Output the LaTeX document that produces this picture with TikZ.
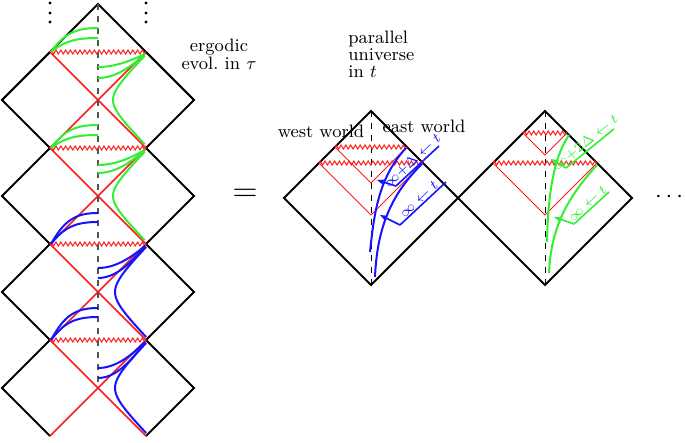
\documentclass[tikz,border=0pt]{standalone}
\usepackage{tikz}
\usetikzlibrary{arrows.meta,decorations.pathmorphing}
\definecolor{hotred}{HTML}{FF1A1A}
\definecolor{deepblue}{HTML}{1414FF}
\definecolor{brightgreen}{HTML}{33EE33}
\definecolor{axisgray}{HTML}{555555}
\tikzset{
  wall/.style={black, line width=0.9pt},
  cone/.style={hotred, line width=#1},
  cone/.default=0.8pt,
  crunch/.style={hotred, line width=0.5pt, decorate,
    decoration={zigzag, segment length=2.4pt, amplitude=1pt}},
  axis/.style={axisgray, dashed, line width=0.7pt},
  thinaxis/.style={black, dashed, line width=0.5pt},
  traj/.style={#1, line width=1pt},
  pointer/.style={#1, line width=0.8pt, -{Stealth[length=4pt,width=3pt]}},
  caption/.style={font=\small, inner sep=1pt},
  tag/.style={font=\scriptsize, sloped, above, inner sep=0.4pt, text=#1}
}

\begin{document}
\begin{tikzpicture}[x=0.5pt, y=-0.5pt]

\def\cx{98}     % axis of the tower
\def\mx{371}    % centre of west/east universe
\def\nx{545}    % centre of the next copy
\def\my{198}    % common centre height
\def\dh{87}     % half-diagonal of the right diamonds

\useasboundingbox (0,0) rectangle (685,443);

%--- Tower of patches (evolution in tau) ---

% Outer boundary
\draw[wall] (2,100) -- (\cx,4) -- (194,100);
\foreach \k in {0,...,3} {
  \pgfmathsetmacro{\yX}{100+96*\k}
  \draw[wall] (50,\yX-48) -- (2,\yX) -- (50,\yX+48);
  \draw[wall] (146,\yX-48) -- (194,\yX) -- (146,\yX+48);
}

% Horizons and singularities
\foreach \k in {0,...,3} {
  \pgfmathsetmacro{\yX}{100+96*\k}
  \draw[cone] (50,\yX-48) -- (146,\yX+48);
  \draw[cone] (146,\yX-48) -- (50,\yX+48);
  \draw[crunch] (50,\yX-48) -- (146,\yX-48);
}

% Axis
\draw[axis] (\cx,4) -- (\cx,388);

% Trajectories: colour / left ends / right ends / radius / range
\foreach \k/\col/\a/\b/\c/\d/\r/\smax in
    {0/brightgreen/24/14/15/26/15/1.8, 1/brightgreen/23/13/17/25/15/1.8,
     2/deepblue/31/22/24/34/17/1.7,    3/deepblue/32/23/28/38/17/1.7} {
  \pgfmathsetmacro{\yZ}{52+96*\k}
  \pgfmathsetmacro{\yX}{100+96*\k}
  \draw[traj=\col] (51,\yZ) .. controls (64,\yZ-0.75*\a) and (75,\yZ-\a) .. (\cx,\yZ-\a);
  \draw[traj=\col] (51,\yZ) .. controls (64,\yZ-0.75*\b) and (75,\yZ-\b) .. (\cx,\yZ-\b);
  \draw[traj=\col] (145,\yZ+2) .. controls (130,\yZ+0.6*\c) and (115,\yZ+\c) .. (\cx,\yZ+\c);
  \draw[traj=\col] (145,\yZ+2) .. controls (130,\yZ+0.6*\d) and (115,\yZ+\d) .. (\cx,\yZ+\d);
  \draw[traj=\col] plot[smooth, domain=-\smax:\smax, variable=\s]
    ({\cx+\r*cosh(\s)}, {\yX+\r*sinh(\s)});
}

% Dots
\foreach \y in {3,13,22} {
  \fill (50,\y) circle (0.8pt);
  \fill (146,\y) circle (0.8pt);
}

\node[caption, align=center] (ergodic) at (219,54) {ergodic\\[-2pt] evol.\ in $\tau$};
\node[font=\LARGE] (equals) at (245,195) {$=$};

%--- Parallel universes (evolution in t) ---

\node[caption, align=left, anchor=west] (parallel) at (346,54)
  {parallel\\[-2.5pt] universe\\[-2.5pt] in $t$};

% West/east universe
\draw[wall] (\mx,\my-\dh) -- (\mx+\dh,\my) -- (\mx,\my+\dh) -- (\mx-\dh,\my) -- cycle;
\draw[thinaxis] (\mx,\my-\dh) -- (\mx,\my+\dh);
\draw[cone=0.5pt] (335,147) -- (\mx,183) -- (407,147);
\draw[crunch] (335,147) -- (407,147);
\draw[cone=0.5pt] (319,163) -- (\mx,215) -- (423,163);
\draw[crunch] (319,163) -- (423,163);

\node[caption] (west) at (321,131) {west world};
\node[caption] (east) at (424,126) {east world};

\draw[traj=deepblue] (370,252) .. controls (374,215) and (378,178) .. (406,148);
\draw[traj=deepblue] (375,277) .. controls (377,230) and (390,195) .. (422,164);

\coordinate (tipA)  at (377,180);
\coordinate (kneeA) at (396,186);
\coordinate (endA)  at (439,146);
\coordinate (tipB)  at (380,215);
\coordinate (kneeB) at (400,225);
\coordinate (endB)  at (446,182);
\draw[pointer=deepblue] (kneeA) -- (tipA);
\draw[traj=deepblue, line width=0.8pt] (kneeA) -- node[tag=deepblue] (labA) {$\infty{+}\Delta\leftarrow t$} (endA);
\draw[pointer=deepblue] (kneeB) -- (tipB);
\draw[traj=deepblue, line width=0.8pt] (kneeB) -- node[tag=deepblue] (labB) {$\infty\leftarrow t$} (endB);

% Next copy
\draw[wall] (\nx,\my-\dh) -- (\nx+\dh,\my) -- (\nx,\my+\dh) -- (\nx-\dh,\my) -- cycle;
\draw[thinaxis] (\nx,\my-\dh) -- (\nx,\my+\dh);
\draw[cone=0.5pt] (523,133) -- (\nx,155) -- (567,133);
\draw[crunch] (523,133) -- (567,133);
\draw[cone=0.5pt] (493,163) -- (\nx,215) -- (597,163);
\draw[crunch] (493,163) -- (597,163);

\draw[traj=brightgreen] (547,242) .. controls (548,200) and (552,160) .. (569,135);
\draw[traj=brightgreen] (549,273) .. controls (551,230) and (565,200) .. (597,165);

\coordinate (tipC)  at (551,159);
\coordinate (kneeC) at (566,168);
\coordinate (endC)  at (614,129);
\coordinate (tipD)  at (554,217);
\coordinate (kneeD) at (574,224);
\coordinate (endD)  at (609,192);
\draw[pointer=brightgreen] (kneeC) -- (tipC);
\draw[traj=brightgreen, line width=0.8pt] (kneeC) -- node[tag=brightgreen] (labC) {$\infty{+}2\Delta\leftarrow t$} (endC);
\draw[pointer=brightgreen] (kneeD) -- (tipD);
\draw[traj=brightgreen, line width=0.8pt] (kneeD) -- node[tag=brightgreen] (labD) {$\infty\leftarrow t$} (endD);

\node[font=\large] (more) at (669,197) {$\cdots$};

\end{tikzpicture}
\end{document}
